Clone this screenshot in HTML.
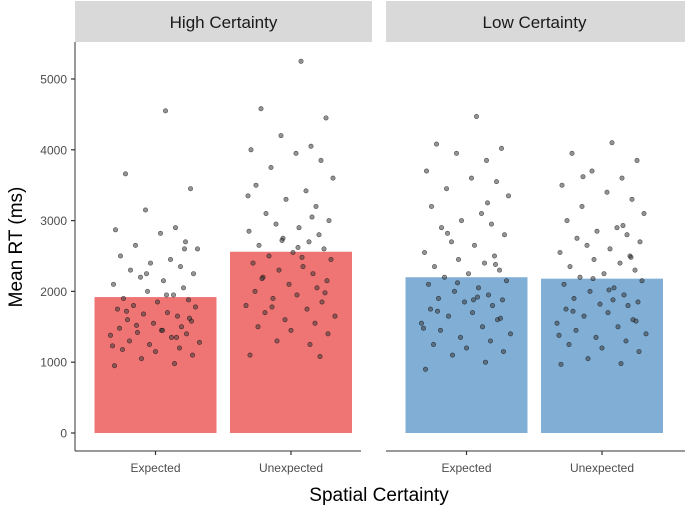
<!DOCTYPE html>
<html><head><meta charset="utf-8"><style>
body{margin:0;background:#fff;font-family:"Liberation Sans",sans-serif}
svg text{font-family:"Liberation Sans",sans-serif}
</style></head><body>
<svg id="chart" width="685" height="508" viewBox="0 0 685 508">
<g id="g"></g>
</svg>
<script>
const panels=["High Certainty","Low Certainty"];
const categories=["Expected","Unexpected"];
const means=[[1920,2560],[2200,2180]];
const yTicks=[0,1000,2000,3000,4000,5000];
const ptsHE=[4550,3660,3450,3150,2900,2870,2820,2700,2650,2600,2500,2450,2400,2350,2300,2250,2200,2150,2100,2050,2000,1950,1900,1880,1850,1800,1780,1750,1700,1680,1650,1600,1580,1550,1500,1480,1450,1420,1400,1380,1350,1300,1280,1250,1200,1180,1150,1100,1050,980,950,2600,2250,1950,1720,1620,1520,1350,1230,1450];
const ptsHU=[5250,4580,4450,4200,4050,4000,3950,3850,3750,3600,3500,3420,3300,3200,3100,3000,2950,2900,2850,2800,2750,2700,2650,2600,2550,2500,2450,2400,2350,2300,2250,2200,2150,2100,2050,2000,1950,1900,1850,1800,1750,1700,1650,1600,1550,1500,1450,1400,1300,1250,1100,1080,2720,2480,2180,1980,1780,3050,3350,2620];
const ptsLE=[4470,4080,4020,3950,3850,3700,3600,3550,3450,3350,3200,3100,3000,2950,2900,2800,2700,2650,2550,2500,2450,2400,2350,2300,2250,2200,2150,2100,2050,2000,1950,1900,1880,1850,1800,1750,1700,1650,1600,1550,1500,1450,1400,1350,1300,1250,1200,1150,1100,1000,900,2380,2120,1920,1720,1620,2820,3250,1480,1880];
const ptsLU=[4100,3950,3850,3700,3600,3500,3400,3300,3200,3100,3000,2900,2850,2800,2750,2700,2650,2600,2550,2500,2450,2400,2350,2300,2250,2200,2150,2100,2050,2000,1950,1900,1850,1820,1800,1750,1700,1650,1600,1550,1500,1450,1400,1350,1300,1250,1200,1150,1050,980,970,2480,2180,1880,1720,1580,3620,2930,1380,2020];
const jitter=[0.1,-0.3,0.35,-0.1,0.2,-0.4,0.05,0.3,-0.2,0.42,-0.35,0.15,-0.05,0.25,-0.25,0.38,-0.15,0.08,-0.42,0.28,-0.08,0.18,-0.32,0.33,0.02,-0.22,0.4,-0.38,0.12,-0.12,0.22,-0.28,0.36,-0.02,0.26,-0.36,0.06,-0.18,0.31,-0.45,0.16,-0.26,0.44,-0.06,0.24,-0.33,0.0,0.37,-0.14,0.19,-0.41,0.29,-0.09,0.11,-0.29,0.34,-0.19,0.21,-0.43,0.07];
const points=[[ptsHE,ptsHU],[ptsLE,ptsLU]];
const NS="http://www.w3.org/2000/svg";
const g=document.getElementById('g');
function mk(t,a){const e=document.createElementNS(NS,t);for(const k in a)e.setAttribute(k,a[k]);g.appendChild(e);return e;}
const y=v=>433-v*(433-79)/5000;
const px=[75,386], pw=297;
function cx(p,i){return px[p]+[80.5,216][i]*pw/297;}
const colors=["#EF7474","#80AED4"];
panels.forEach((name,p)=>{
  let s=mk('rect',{x:px[p],y:1,width:pw+(p==1?2:0),height:41,fill:'#d9d9d9'});
  
  
  let t=mk('text',{x:px[p]+pw/2,y:28,'text-anchor':'middle','font-size':17,fill:'#1a1a1a'});t.textContent=name;
  
  
  let ax=mk('line',{x1:px[p],x2:px[p]+pw-11+(p==1?13:0),y1:451,y2:451,stroke:'#333','stroke-width':1});
  
  
  categories.forEach((c,i)=>{
    const c0=cx(p,i);
    let b=mk('rect',{x:c0-61,y:y(means[p][i]),width:122,height:y(0)-y(means[p][i]),fill:colors[p]});
    
    
    points[p][i].forEach((v,k)=>{
      let d=mk('circle',{cx:c0+jitter[k%jitter.length]*100,cy:y(v),r:2.2,fill:'rgba(60,60,60,0.55)',stroke:'rgba(0,0,0,0.6)','stroke-width':0.6});
      
      
    });
    mk('line',{x1:c0,x2:c0,y1:451,y2:455,stroke:'#333','stroke-width':1.2});
    let tl=mk('text',{x:c0,y:472,'text-anchor':'middle','font-size':12,fill:'#4d4d4d'});tl.textContent=c;
    
    
  });
});
let la=mk('line',{x1:75,x2:75,y1:42,y2:451,stroke:'#333','stroke-width':1});


yTicks.forEach(v=>{
  mk('line',{x1:71,x2:75,y1:y(v),y2:y(v),stroke:'#333','stroke-width':1.2});
  let t=mk('text',{x:67,y:y(v)+4.5,'text-anchor':'end','font-size':12,fill:'#4d4d4d'});t.textContent=v;
  
  
});
let xt=mk('text',{x:379,y:501,'text-anchor':'middle','font-size':19,fill:'#000'});xt.textContent='Spatial Certainty';


let yt=mk('text',{x:0,y:0,'text-anchor':'middle','font-size':19,fill:'#000',transform:'translate(22,247) rotate(-90)'});yt.textContent='Mean RT (ms)';


</script>
</body></html>
